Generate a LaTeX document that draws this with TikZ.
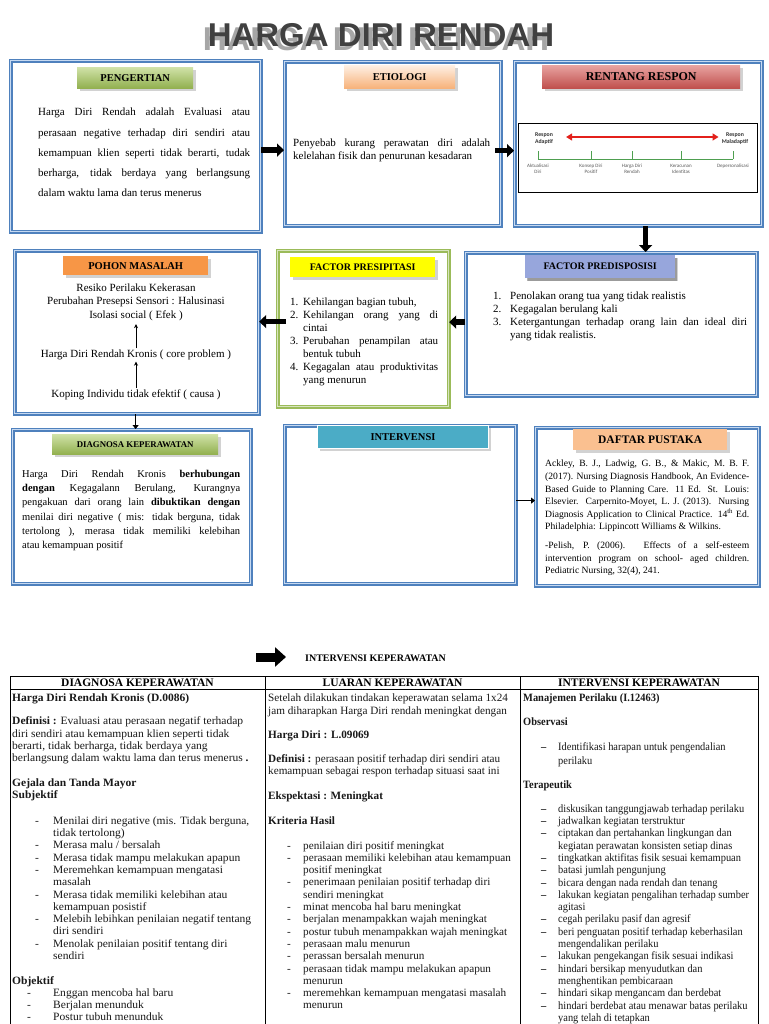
\documentclass[tikz,border=0pt]{standalone}
\usepackage{fontspec}
\setmainfont{Liberation Serif}
\newfontfamily\titlefont{Liberation Sans}
\newfontfamily\calib{Carlito}
\newfontfamily\colAfont[FakeStretch=1.03]{Liberation Serif}
\newfontfamily\colBfont[FakeStretch=1.0]{Liberation Serif}
\newfontfamily\colCfont[FakeStretch=0.93]{Liberation Serif}
\usetikzlibrary{arrows.meta,shadows}

\definecolor{pb}{HTML}{4F81BD}
\definecolor{pbl}{HTML}{C6D9F1}
\definecolor{pg}{HTML}{9BBB59}
\definecolor{pgl}{HTML}{D7E4BD}
\definecolor{hgreenT}{HTML}{D0E2A8}
\definecolor{hgreenB}{HTML}{92B04F}
\definecolor{hpeachT}{HTML}{FEF0E4}
\definecolor{hpeachB}{HTML}{F7B27A}
\definecolor{hredT}{HTML}{E8A3A1}
\definecolor{hredB}{HTML}{C0504D}
\definecolor{horange}{HTML}{F79646}
\definecolor{hyellow}{HTML}{FFFF00}
\definecolor{hblue}{HTML}{97A6DC}
\definecolor{hteal}{HTML}{4BACC6}
\definecolor{htan}{HTML}{FAC090}
\definecolor{titlegray}{HTML}{404040}
\definecolor{shadowgray}{HTML}{A6A6A6}
\definecolor{scalegreen}{HTML}{4E9F50}
\definecolor{arrred}{HTML}{E3201B}

\newcommand\itmA[1]{\hspace*{23pt}\makebox[18pt][l]{-}#1}
\newcommand\contA[1]{\hspace*{41pt}#1}
\newcommand\itmD[1]{\hspace*{15pt}\makebox[26pt][l]{-}#1}
\newcommand\itmB[1]{\hspace*{19pt}\makebox[16pt][l]{-}#1}
\newcommand\contB[1]{\hspace*{35pt}#1}
\newcommand\itmC[1]{\hspace*{18pt}\makebox[17pt][l]{\textbf{\textendash}}#1}
\newcommand\contC[1]{\hspace*{35pt}#1}

\tikzset{
 panel/.style={draw=pb, line width=1.2pt, double=pbl, double distance=1.5pt, anchor=north west, inner sep=0pt},
 gpanel/.style={panel, draw=pg, double=pgl},
 head/.style={anchor=north west, inner sep=0pt, text=black, drop shadow={shadow xshift=2.5pt, shadow yshift=-2.5pt, fill=black!35}},
 body/.style={anchor=north west, inner sep=0pt, align=left},
 blockarrow/.style={line width=5.5pt, -{Triangle[length=7pt,width=13pt]}},
 thinarrow/.style={line width=0.7pt, -{Stealth[length=4pt,width=4pt]}},
 midarrow/.style={line width=1.6pt, -{Triangle[length=4pt,width=6pt]}},
 rlabel/.style={font=\calib\fontsize{5}{6}\selectfont, text=black!65, align=center, inner sep=0pt},
 tcell/.style={anchor=north west, inner sep=0pt, align=left, text=black!90},
 thead/.style={font=\bfseries\fontsize{11.5}{12}\selectfont, inner sep=0pt},
}

\begin{document}
\begin{tikzpicture}[x=1pt,y=-1pt]
\useasboundingbox (0,0) rectangle (768,1024);
\fill[white] (0,0) rectangle (768,1024);

% title with its shadow
\node[font=\titlefont\bfseries\fontsize{33}{33}\selectfont, inner sep=0pt] (title) at (381,37) {\rlap{\hspace*{-5pt}\raisebox{-4pt}{\textcolor{shadowgray}{HARGA DIRI RENDAH}}}\textcolor{titlegray}{HARGA DIRI RENDAH}};

% panels
\node[panel, minimum width=250pt, minimum height=171pt] (peng) at (10,60) {};
\node[panel, minimum width=216pt, minimum height=164pt] (etio) at (284,61) {};
\node[panel, minimum width=247pt, minimum height=164pt] (rent) at (514,61) {};
\node[panel, minimum width=244pt, minimum height=163pt] (pohon) at (14,250) {};
\node[gpanel, minimum width=171pt, minimum height=156pt] (presip) at (277,250) {};
\node[panel, minimum width=291pt, minimum height=143pt] (predis) at (465,252) {};
\node[panel, minimum width=238pt, minimum height=154pt] (diag) at (12,429) {};
\node[panel, minimum width=231pt, minimum height=158pt] (interv) at (284,425) {};
\node[panel, minimum width=223pt, minimum height=158pt] (daftar) at (535,427) {};

% headers
\node[head, top color=hgreenT, bottom color=hgreenB, minimum width=116pt, minimum height=21pt, font=\bfseries\fontsize{10.5}{12}\selectfont] (hpeng) at (77,67) {PENGERTIAN};
\node[head, top color=hpeachT, bottom color=hpeachB, minimum width=111pt, minimum height=23pt, font=\bfseries\fontsize{10.5}{12}\selectfont] (hetio) at (344,65) {ETIOLOGI};
\node[head, top color=hredT, bottom color=hredB, minimum width=198pt, minimum height=23pt, font=\bfseries\fontsize{12}{13}\selectfont] (hrent) at (542,65) {RENTANG RESPON};
\node[head, fill=horange, minimum width=145pt, minimum height=19pt, font=\bfseries\fontsize{10.5}{12}\selectfont] (hpohon) at (63,256) {POHON MASALAH};
\node[head, fill=hyellow, minimum width=145pt, minimum height=20pt, font=\bfseries\fontsize{10}{12}\selectfont] (hpresip) at (290,257) {FACTOR PRESIPITASI};
\node[head, fill=hblue, minimum width=150pt, minimum height=23pt, font=\bfseries\fontsize{10}{12}\selectfont, drop shadow={shadow xshift=2pt, shadow yshift=-2.5pt, fill=black!60}] (hpredis) at (525,255) {FACTOR PREDISPOSISI};
\node[head, top color=hgreenT, bottom color=hgreenB, minimum width=166pt, minimum height=20pt, font=\bfseries\fontsize{8.8}{10}\selectfont] (hdiag) at (52,434) {DIAGNOSA KEPERAWATAN};
\node[head, fill=hteal, draw=white, line width=1pt, minimum width=171pt, minimum height=23pt, font=\bfseries\fontsize{10.5}{12}\selectfont] (hinterv) at (317,425) {INTERVENSI};
\node[head, fill=htan, minimum width=154pt, minimum height=21pt, font=\bfseries\fontsize{11.5}{13}\selectfont] (hdaftar) at (573,429) {DAFTAR PUSTAKA};

% pengertian text
\node[body, font=\fontsize{11}{20.2}\selectfont] (tpeng) at (38,108) {%
\makebox[212pt][s]{Harga Diri Rendah adalah Evaluasi atau}\\
\makebox[212pt][s]{perasaan negative terhadap diri sendiri atau}\\
\makebox[212pt][s]{kemampuan klien seperti tidak berarti, tudak}\\
\makebox[212pt][s]{berharga, tidak berdaya yang berlangsung}\\
dalam waktu lama dan terus menerus};

% etiologi text
\node[body, font=\fontsize{11}{13}\selectfont] (tetio) at (293,139) {%
\makebox[197pt][s]{Penyebab kurang perawatan diri adalah}\\
kelelahan fisik dan penurunan kesadaran};

% rentang respon
\node[draw=black, line width=0.8pt, anchor=north west, minimum width=239pt, minimum height=69pt, inner sep=0pt] (rbox) at (518,123) {};
\node[rlabel, font=\calib\bfseries\fontsize{5.8}{7}\selectfont, text=black!80] (ra) at (544,139) {Respon\\Adaptif};
\node[rlabel, font=\calib\bfseries\fontsize{5.8}{7}\selectfont, text=black!80] (rm) at (735,139) {Respon\\Maladaptif};
\draw[line width=1.6pt, arrred, {Triangle[length=6pt,width=7pt]}-{Triangle[length=6pt,width=7pt]}, shorten <=13pt, shorten >=3pt] ([yshift=2pt]ra.east) -- ([yshift=2pt]rm.west);
\coordinate (t1) at (538,159);
\coordinate (t2) at (591,159);
\coordinate (t3) at (632,159);
\coordinate (t4) at (681,159);
\coordinate (t5) at (733,159);
\draw[scalegreen, line width=0.8pt] (t1) -- (t5);
\foreach \t in {t1,t2,t3,t4,t5} \draw[scalegreen, line width=0.8pt] (\t) -- ++(0,-8);
\node[rlabel, anchor=north] (l1) at (538,164) {Aktualisasi\\Diri};
\node[rlabel, anchor=north] (l2) at (591,164) {Konsep Diri\\Positif};
\node[rlabel, anchor=north] (l3) at (632,164) {Harga Diri\\Rendah};
\node[rlabel, anchor=north] (l4) at (681,164) {Keracunan\\Identitas};
\node[rlabel, anchor=north] (l5) at (733,164) {Depersonalisasi};

% pohon masalah text
\node[font=\fontsize{11}{13.5}\selectfont, align=center, inner sep=1.5pt] (pm1) at (136,302) {Resiko Perilaku Kekerasan\\Perubahan Presepsi Sensori : Halusinasi\\Isolasi social ( Efek )};
\node[font=\fontsize{11}{13}\selectfont, inner sep=1.5pt] (pm2) at (136,355) {Harga Diri Rendah Kronis ( core problem )};
\node[font=\fontsize{11}{13}\selectfont, inner sep=1.5pt] (pm3) at (136,395) {Koping Individu tidak efektif ( causa )};
\draw[thinarrow] (pm3.north) -- (pm2.south);
\draw[thinarrow] (pm2.north) -- ([yshift=-2pt]pm1.south);

% factor presipitasi
\node[body, font=\fontsize{11}{13}\selectfont] (tpresip) at (290,298) {%
\makebox[13pt][l]{1.}Kehilangan bagian tubuh,\\
\makebox[13pt][l]{2.}\makebox[135pt][s]{Kehilangan orang yang di}\\
\hspace*{13pt}cintai\\
\makebox[13pt][l]{3.}\makebox[135pt][s]{Perubahan penampilan atau}\\
\hspace*{13pt}bentuk tubuh\\
\makebox[13pt][l]{4.}\makebox[135pt][s]{Kegagalan atau produktivitas}\\
\hspace*{13pt}yang menurun};

% factor predisposisi
\node[body, font=\fontsize{11}{13}\selectfont] (tpredis) at (493,292) {%
\makebox[17pt][l]{1.}Penolakan orang tua yang tidak realistis\\
\makebox[17pt][l]{2.}Kegagalan berulang kali\\
\makebox[17pt][l]{3.}\makebox[237pt][s]{Ketergantungan terhadap orang lain dan ideal diri}\\
\hspace*{17pt}yang tidak realistis.};

% diagnosa text
\node[body, font=\fontsize{10.5}{14.2}\selectfont] (tdiag) at (22,470) {%
\makebox[218pt][s]{Harga Diri Rendah Kronis \textbf{berhubungan}}\\
\makebox[218pt][s]{\textbf{dengan} Kegagalann Berulang, Kurangnya}\\
\makebox[218pt][s]{pengakuan dari orang lain \textbf{dibuktikan dengan}}\\
\makebox[218pt][s]{menilai diri negative ( mis: tidak berguna, tidak}\\
\makebox[218pt][s]{tertolong ), merasa tidak memiliki kelebihan}\\
atau kemampuan positif};

% daftar pustaka text
\node[body, font=\fontsize{9.6}{12.6}\selectfont] (tdaftar) at (545,460) {%
\makebox[204pt][s]{Ackley, B. J., Ladwig, G. B., \& Makic, M. B. F.}\\
\makebox[204pt][s]{(2017). Nursing Diagnosis Handbook, An Evidence-}\\
\makebox[204pt][s]{Based Guide to Planning Care. 11 Ed. St. Louis:}\\
\makebox[204pt][s]{Elsevier. Carpernito-Moyet, L. J. (2013). Nursing}\\
\makebox[204pt][s]{Diagnosis Application to Clinical Practice. 14\textsuperscript{th} Ed.}\\
Philadelphia: Lippincott Williams \& Wilkins.\\[6pt]
\makebox[204pt][s]{-Pelish, P. (2006). Effects of a self-esteem}\\
\makebox[204pt][s]{intervention program on school- aged children.}\\
Pediatric Nursing, 32(4), 241.};

% connectors
\draw[blockarrow] ([yshift=-4pt]peng.east) -- ([yshift=-4pt]peng.east -| etio.west);
\draw[blockarrow, shorten <=-6pt] ([yshift=-7pt]etio.east) -- ([yshift=-7pt]etio.east -| rent.west);
\draw[blockarrow] ([xshift=7.5pt]rent.south) -- ([xshift=7.5pt]rent.south |- predis.north);
\draw[blockarrow] ([yshift=2pt]predis.west) -- ([yshift=2pt]predis.west -| presip.east);
\draw[blockarrow, shorten <=-9pt] ([yshift=7pt]presip.west) -- ([yshift=7pt]presip.west -| pohon.east);
\draw[midarrow] ([xshift=-1pt]pohon.south) -- ([xshift=-1pt]pohon.south |- diag.north);
\draw[midarrow] ([yshift=4pt]interv.east) -- ([yshift=4pt]interv.east -| daftar.west);

% intervensi keperawatan heading
\node[font=\bfseries\fontsize{10}{12}\selectfont, anchor=west, inner sep=0pt] (ikh) at (305,658) {INTERVENSI KEPERAWATAN};
\coordinate (ika) at (256,657);
\draw[line width=9pt, -{Triangle[length=11pt,width=19pt]}] (ika) -- ([xshift=-19pt,yshift=1pt]ikh.west);

% table
\draw[line width=0.7pt] (10,676) -- (758,676);
\draw[line width=0.7pt] (10,689) -- (758,689);
\foreach \x in {10,265,520,758} \draw[line width=0.7pt] (\x,676) -- (\x,1030);
\node[thead] (th1) at (137.5,683) {DIAGNOSA KEPERAWATAN};
\node[thead] (th2) at (392.5,683) {LUARAN KEPERAWATAN};
\node[thead] (th3) at (639,683) {INTERVENSI KEPERAWATAN};

\node[tcell, font=\colAfont\fontsize{11.2}{12.3}\selectfont] (c1) at (12,694) {%
\textbf{Harga Diri Rendah Kronis (D.0086)}\\[10.6pt]
\textbf{Definisi :} Evaluasi atau perasaan negatif terhadap\\
diri sendiri atau kemampuan klien seperti tidak\\
berarti, tidak berharga, tidak berdaya yang\\
berlangsung dalam waktu lama dan terus menerus \textbf{.}\\[12.4pt]
\textbf{Gejala dan Tanda Mayor}\\
\textbf{Subjektif}\\[13.2pt]
\itmA{Menilai diri negative (mis. Tidak berguna,}\\
\contA{tidak tertolong)}\\
\itmA{Merasa malu / bersalah}\\
\itmA{Merasa tidak mampu melakukan apapun}\\
\itmA{Meremehkan kemampuan mengatasi}\\
\contA{masalah}\\
\itmA{Merasa tidak memiliki kelebihan atau}\\
\contA{kemampuan posistif}\\
\itmA{Melebih lebihkan penilaian negatif tentang}\\
\contA{diri sendiri}\\
\itmA{Menolak penilaian positif tentang diri}\\
\contA{sendiri}\\[12.2pt]
\textbf{Objektif}\\
\itmD{Enggan mencoba hal baru}\\
\itmD{Berjalan menunduk}\\
\itmD{Postur tubuh menunduk}};

\node[tcell, font=\colBfont\fontsize{11.2}{12.3}\selectfont] (c2) at (268,694) {%
Setelah dilakukan tindakan keperawatan selama 1x24\\
jam diharapkan Harga Diri rendah meningkat dengan\\[11.6pt]
\textbf{Harga Diri : L.09069}\\[11.6pt]
\textbf{Definisi :} perasaan positif terhadap diri sendiri atau\\
kemampuan sebagai respon terhadap situasi saat ini\\[12.6pt]
\textbf{Ekspektasi : Meningkat}\\[12.6pt]
\textbf{Kriteria Hasil}\\[12.6pt]
\itmB{penilaian diri positif meningkat}\\
\itmB{perasaan memiliki kelebihan atau kemampuan}\\
\contB{positif meningkat}\\
\itmB{penerimaan penilaian positif terhadap diri}\\
\contB{sendiri meningkat}\\
\itmB{minat mencoba hal baru meningkat}\\
\itmB{berjalan menampakkan wajah meningkat}\\
\itmB{postur tubuh menampakkan wajah meningkat}\\
\itmB{perasaan malu menurun}\\
\itmB{perassan bersalah menurun}\\
\itmB{perasaan tidak mampu melakukan apapun}\\
\contB{menurun}\\
\itmB{meremehkan kemampuan mengatasi masalah}\\
\contB{menurun}};

\node[tcell, font=\colCfont\fontsize{11.2}{12.3}\selectfont] (c3) at (523,694) {%
\textbf{Manajemen Perilaku (I.12463)}\\[11pt]
\textbf{Observasi}\\[12.6pt]
\itmC{Identifikasi harapan untuk pengendalian}\\[1.6pt]
\contC{perilaku}\\[12.6pt]
\textbf{Terapeutik}\\[11pt]
\itmC{diskusikan tanggungjawab terhadap perilaku}\\
\itmC{jadwalkan kegiatan terstruktur}\\
\itmC{ciptakan dan pertahankan lingkungan dan}\\
\contC{kegiatan perawatan konsisten setiap dinas}\\
\itmC{tingkatkan aktifitas fisik sesuai kemampuan}\\
\itmC{batasi jumlah pengunjung}\\
\itmC{bicara dengan nada rendah dan tenang}\\
\itmC{lakukan kegiatan pengalihan terhadap sumber}\\
\contC{agitasi}\\
\itmC{cegah perilaku pasif dan agresif}\\
\itmC{beri penguatan positif terhadap keberhasilan}\\
\contC{mengendalikan perilaku}\\
\itmC{lakukan pengekangan fisik sesuai indikasi}\\
\itmC{hindari bersikap menyudutkan dan}\\
\contC{menghentikan pembicaraan}\\
\itmC{hindari sikap mengancam dan berdebat}\\
\itmC{hindari berdebat atau menawar batas perilaku}\\
\contC{yang telah di tetapkan}};
\end{tikzpicture}
\end{document}
